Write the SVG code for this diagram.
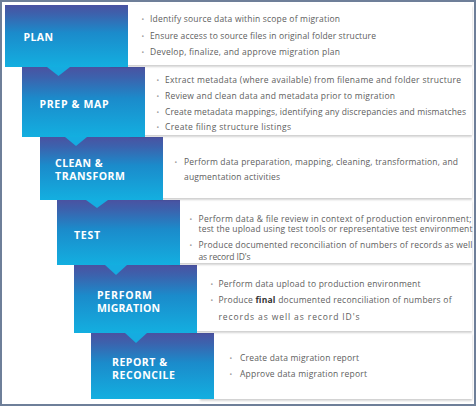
<svg xmlns="http://www.w3.org/2000/svg" width="476" height="406" viewBox="0 0 476 406">
  <defs>
    <linearGradient id="boxg" x1="0" y1="0" x2="0" y2="1">
      <stop offset="0" stop-color="#4a52a1"/>
      <stop offset="0.15" stop-color="#3c62ad"/>
      <stop offset="0.45" stop-color="#1b8bcb"/>
      <stop offset="1" stop-color="#13afe0"/>
    </linearGradient>
    <filter id="sh" x="-5%" y="-20%" width="110%" height="150%">
      <feDropShadow dx="0" dy="1.5" stdDeviation="1.2" flood-color="#000" flood-opacity="0.22"/>
    </filter>
  </defs>
  <style>
    .box { fill: url(#boxg); }
    .tri { fill: #15ace0; }
    .panel { fill: #ffffff; filter: url(#sh); }
    .lbl { font-family: "Open Sans", "Liberation Sans", sans-serif; font-weight: 700; font-size: 10.5px; fill: #ffffff; }
    .txt { font-family: "Open Sans", "Liberation Sans", sans-serif; font-size: 8.5px; fill: #606060; }
    .bul { font-family: "Open Sans", "Liberation Sans", sans-serif; font-size: 7px; fill: #a0a0a0; }
    .b { font-weight: 700; fill: #333333; }
  </style>
  <rect x="0" y="0" width="476" height="406" fill="#ffffff"/>

  <g id="report">
    <rect class="panel" x="200" y="333" width="272" height="66"/>
    <rect class="box" x="91" y="333" width="123" height="66"/>
    <text class="lbl" x="112" y="365.5" textLength="55">REPORT &amp;</text>
    <text class="lbl" x="112" y="379" textLength="63">RECONCILE</text>
    <text class="bul" x="229.5" y="361">•</text>
    <text class="txt" x="240" y="361" textLength="119">Create data migration report</text>
    <text class="bul" x="229.5" y="377">•</text>
    <text class="txt" x="240" y="377" textLength="127">Approve data migration report</text>
  </g>

  <g id="perform">
    <rect class="panel" x="190" y="265" width="282" height="66"/>
    <rect class="box" x="74" y="265" width="123" height="68"/>
    <polygon class="tri" points="125,333 147,333 136,343"/>
    <text class="lbl" x="97" y="298.5" textLength="55">PERFORM</text>
    <text class="lbl" x="97" y="312" textLength="63">MIGRATION</text>
    <text class="bul" x="210.5" y="287">•</text>
    <text class="txt" x="218.5" y="287" textLength="202">Perform data upload to production environment</text>
    <text class="bul" x="210.5" y="303">•</text>
    <text class="txt" x="218.5" y="303" textLength="233">Produce <tspan class="b">final</tspan> documented reconciliation of numbers of</text>
    <text class="txt" x="218.5" y="320" textLength="141">records as well as record ID's</text>
  </g>

  <g id="test">
    <rect class="panel" x="170" y="200" width="302" height="63"/>
    <rect class="box" x="57" y="200" width="123" height="65"/>
    <polygon class="tri" points="105,265 127,265 116,275"/>
    <text class="lbl" x="74" y="239" textLength="26">TEST</text>
    <text class="bul" x="189.5" y="221.5">•</text>
    <text class="txt" x="198.5" y="221.5" textLength="273">Perform data &amp; file review in context of production environment;</text>
    <text class="txt" x="198.5" y="231.5" textLength="274">test the upload using test tools or representative test environment</text>
    <text class="bul" x="189.5" y="248">•</text>
    <text class="txt" x="198.5" y="248" textLength="274">Produce documented reconciliation of numbers of records as well</text>
    <text class="txt" x="198.5" y="259.5" textLength="52">as record ID's</text>
  </g>

  <g id="clean">
    <rect class="panel" x="150" y="137" width="322" height="61"/>
    <rect class="box" x="40" y="137" width="123" height="63"/>
    <polygon class="tri" points="86,200 108,200 97,208"/>
    <text class="lbl" x="55" y="166.5" textLength="47.5">CLEAN &amp;</text>
    <text class="lbl" x="55" y="180" textLength="70">TRANSFORM</text>
    <text class="bul" x="174.5" y="164.5">•</text>
    <text class="txt" x="184" y="164.5" textLength="274">Perform data preparation, mapping, cleaning, transformation, and</text>
    <text class="txt" x="184" y="180" textLength="96">augmentation activities</text>
  </g>

  <g id="prep">
    <rect class="panel" x="130" y="67" width="342" height="68"/>
    <rect class="box" x="22" y="67" width="123" height="70"/>
    <polygon class="tri" points="65,137 87,137 76,146"/>
    <text class="lbl" x="39.5" y="108" textLength="69">PREP &amp; MAP</text>
    <text class="bul" x="156.5" y="82.5">•</text>
    <text class="txt" x="165" y="82.5" textLength="296">Extract metadata (where available) from filename and folder structure</text>
    <text class="bul" x="156.5" y="98.5">•</text>
    <text class="txt" x="165" y="98.5" textLength="230">Review and clean data and metadata prior to migration</text>
    <text class="bul" x="156.5" y="114.5">•</text>
    <text class="txt" x="165" y="114.5" textLength="301">Create metadata mappings, identifying any discrepancies and mismatches</text>
    <text class="bul" x="156.5" y="130">•</text>
    <text class="txt" x="165" y="130" textLength="126">Create filing structure listings</text>
  </g>

  <g id="plan">
    <rect class="panel" x="110" y="5" width="362" height="60"/>
    <rect class="box" x="5" y="5" width="123" height="62"/>
    <polygon class="tri" points="47,67 70,67 58.5,76"/>
    <text class="lbl" x="23.5" y="41" textLength="29.5">PLAN</text>
    <text class="bul" x="141.5" y="22">•</text>
    <text class="txt" x="150" y="22" textLength="190">Identify source data within scope of migration</text>
    <text class="bul" x="141.5" y="38.5">•</text>
    <text class="txt" x="150" y="38.5" textLength="226">Ensure access to source files in original folder structure</text>
    <text class="bul" x="141.5" y="55">•</text>
    <text class="txt" x="150" y="55" textLength="190">Develop, finalize, and approve migration plan</text>
  </g>

  <g id="connectors"></g>

  <rect x="1" y="1" width="474" height="404" fill="none" stroke="#6e7f99" stroke-width="2"/>
</svg>
